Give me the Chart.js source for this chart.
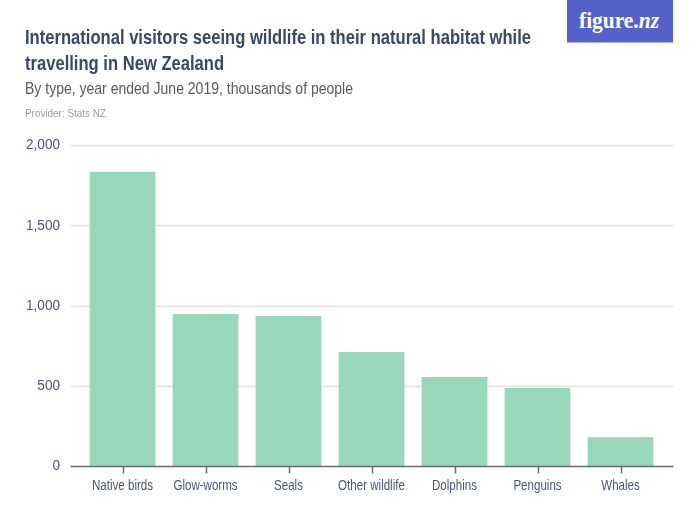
<!DOCTYPE html>
<html>
<head>
<meta charset="utf-8">
<script src="https://cdn.jsdelivr.net/npm/chart.js@4"></script>
<style>
  html, body { margin: 0; padding: 0; background: #fff; }
  #wrap { position: relative; width: 700px; height: 525px; overflow: hidden; }
  canvas { position: absolute; left: 0; top: 0; }
  .t { position: absolute; left: 25px; white-space: nowrap; font-family: "Liberation Sans", sans-serif; transform-origin: 0 0; }
  .t span { display: inline-block; }
  #title { top: 24px; font-size: 20px; line-height: 26px; color: #3a4868; font-weight: bold; }
  #sub { top: 79px; font-size: 17px; color: #5a5a5a; }
  #prov { top: 107px; font-size: 11.5px; color: #9a9a9a; }
  #logo { position: absolute; left: 567px; top: 0; width: 106px; height: 42px; background: #5560c8; border-bottom: 1px solid #aab0e8; }
  #logotext { position: absolute; left: 12px; top: 7px; color: #fff; font-family: "Liberation Serif", serif; font-weight: bold; font-size: 24px; line-height: 26px; white-space: nowrap; transform-origin: 0 0; }
</style>
</head>
<body>
<div id="wrap">
  <canvas id="c" width="700" height="525"></canvas>
  <div id="title" class="t"><span id="tl1">International visitors seeing wildlife in their natural habitat while</span><br><span>travelling in New Zealand</span></div>
  <div id="sub" class="t"><span id="subs">By type, year ended June 2019, thousands of people</span></div>
  <div id="prov" class="t"><span id="provs">Provider: Stats NZ</span></div>
  <div id="logo"><div id="logotext"><span id="logos">figure.<i>nz</i></span></div></div>
</div>
<script>
const categories = ["Native birds", "Glow-worms", "Seals", "Other wildlife", "Dolphins", "Penguins", "Whales"];
const visitors = [1834, 947, 935, 710, 555, 486, 179];
const yTicks = [0, 500, 1000, 1500, 2000];

// condense HTML text to match reference widths
function fit(boxId, spanId, target) {
  const w = document.getElementById(spanId).getBoundingClientRect().width;
  document.getElementById(boxId).style.transform = 'scaleX(' + (target / w) + ')';
}
fit('title', 'tl1', 506);
fit('sub', 'subs', 328);
fit('prov', 'provs', 81);
fit('logotext', 'logos', 80);

const FONT = "'Liberation Sans', sans-serif";
const TEXT = "#4a5576";

const fmt = v => v.toLocaleString('en-US');

const gridPlugin = {
  id: 'extGrid',
  beforeDatasetsDraw(chart) {
    const ctx = chart.ctx;
    const y = chart.scales.y;
    const ca = chart.chartArea;
    const x0 = ca.left - 10.5, x1 = ca.right + 11.5;
    ctx.save();
    yTicks.forEach(v => {
      if (v === 0) return;
      const py = Math.round(y.getPixelForValue(v)) + 0.5;
      ctx.strokeStyle = '#e2e2e2';
      ctx.lineWidth = 1.5;
      ctx.beginPath(); ctx.moveTo(x0, py); ctx.lineTo(x1, py); ctx.stroke();
    });
    ctx.restore();
  },
  afterDatasetsDraw(chart) {
    const ctx = chart.ctx;
    const y = chart.scales.y;
    const x = chart.scales.x;
    const ca = chart.chartArea;
    const py = Math.round(y.getPixelForValue(0)) + 0.5;
    ctx.save();
    ctx.strokeStyle = '#6a6a6a';
    ctx.lineWidth = 1.5;
    ctx.beginPath(); ctx.moveTo(ca.left - 10.5, py); ctx.lineTo(ca.right + 11.5, py); ctx.stroke();
    // tick marks at category centres
    categories.forEach((c, i) => {
      const px = Math.round(x.getPixelForTick(i)) + 0.5;
      ctx.beginPath(); ctx.moveTo(px, py); ctx.lineTo(px, py + 7); ctx.stroke();
    });
    // condensed x labels
    ctx.fillStyle = TEXT;
    ctx.font = "15px " + FONT;
    ctx.textAlign = 'center';
    ctx.textBaseline = 'alphabetic';
    const kx = 61 / ctx.measureText('Native birds').width;
    categories.forEach((c, i) => {
      const px = x.getPixelForTick(i);
      ctx.save();
      ctx.translate(px, py + 23);
      ctx.scale(kx, 1);
      ctx.fillText(c, 0, 0);
      ctx.restore();
    });
    // condensed y labels
    ctx.font = "15.5px " + FONT;
    ctx.textAlign = 'right';
    ctx.textBaseline = 'middle';
    const ky = 34 / ctx.measureText('2,000').width;
    yTicks.forEach(v => {
      const yy = y.getPixelForValue(v);
      ctx.save();
      ctx.translate(ca.left - 21, yy);
      ctx.scale(ky, 1);
      ctx.fillText(fmt(v), 0, 0);
      ctx.restore();
    });
    ctx.restore();
  }
};

new Chart(document.getElementById('c'), {
  type: 'bar',
  data: {
    labels: categories,
    datasets: [{
      data: visitors,
      backgroundColor: '#98d7bc',
      borderWidth: 0,
      barPercentage: 0.792,
      categoryPercentage: 1.0
    }]
  },
  options: {
    responsive: false,
    animation: false,
    devicePixelRatio: 1,
    layout: { padding: { top: 145, right: 38, bottom: 0, left: 0 } },
    plugins: { legend: { display: false }, tooltip: { enabled: false } },
    scales: {
      x: {
        afterFit(s) { s.height = 59; },
        grid: { display: false },
        border: { display: false },
        ticks: { display: false }
      },
      y: {
        min: 0, max: 2000,
        afterFit(s) { s.width = 81; },
        afterBuildTicks(s) { s.ticks = yTicks.map(v => ({ value: v })); },
        grid: { display: false },
        border: { display: false },
        ticks: { display: false }
      }
    }
  },
  plugins: [gridPlugin]
});
</script>
</body>
</html>
